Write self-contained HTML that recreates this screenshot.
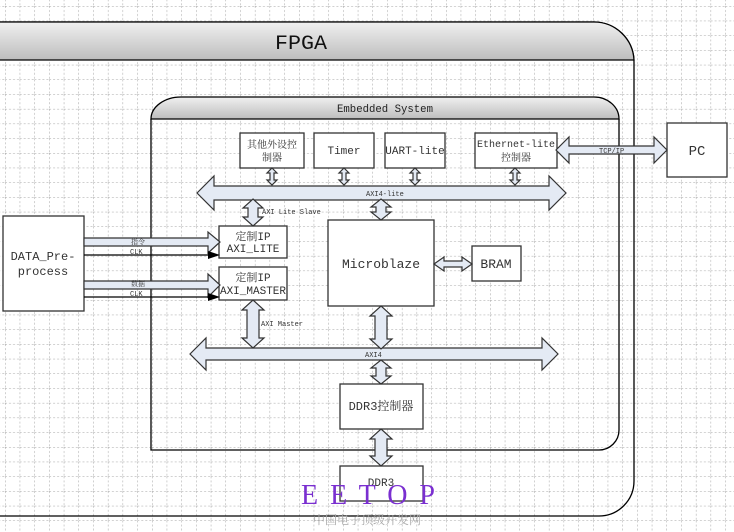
<!DOCTYPE html>
<html><head><meta charset="utf-8"><style>
html,body{margin:0;padding:0;background:#fff;}
svg{display:block;}
text{font-family:"Liberation Mono","Noto Serif CJK SC","Noto Sans CJK SC",monospace;fill:#333;}
</style></head><body>
<svg width="734" height="532" viewBox="0 0 734 532" xmlns="http://www.w3.org/2000/svg">
<defs>
<pattern id="g" x="5" y="6" width="14.7" height="14.7" patternUnits="userSpaceOnUse">
<path d="M0 0H14.7M0 0V14.7" stroke="#a0a0a0" stroke-width="1" stroke-dasharray="2 2" fill="none"/>
</pattern>
<linearGradient id="hg" x1="0" y1="0" x2="0" y2="1">
<stop offset="0" stop-color="#f0f0f0"/><stop offset="1" stop-color="#bdbdbd"/>
</linearGradient>
</defs>
<rect width="734" height="532" fill="#fff"/>
<rect width="734" height="532" fill="url(#g)"/>

<path d="M-5 22 H594 A40 40 0 0 1 634 62 V481 A35 35 0 0 1 599 516 H-5" fill="none" stroke="#000" stroke-width="1.3"/>
<path d="M-5 22 H594 A40 40 0 0 1 634 60 H-5 Z" fill="url(#hg)" stroke="#000" stroke-width="1.3"/>
<text x="301" y="49" font-size="20" text-anchor="middle" style="fill:#111" textLength="52" lengthAdjust="spacingAndGlyphs">FPGA</text>

<path d="M151 119 V450 H599 A20 20 0 0 0 619 430 V119" fill="none" stroke="#000" stroke-width="1.3"/>
<path d="M151 119 A30 22 0 0 1 181 97 H594 A25 22 0 0 1 619 119 Z" fill="url(#hg)" stroke="#000" stroke-width="1.3"/>
<text x="385" y="112" font-size="11" text-anchor="middle" style="fill:#222" textLength="96" lengthAdjust="spacingAndGlyphs">Embedded System</text>

<g fill="#fff" stroke="#333" stroke-width="1.3">
<rect x="240" y="133" width="64" height="35"/>
<rect x="314" y="133" width="60" height="35"/>
<rect x="385" y="133" width="60" height="35"/>
<rect x="475" y="133" width="82" height="35"/>
<rect x="667" y="123" width="60" height="54"/>
<rect x="219" y="226" width="68" height="32"/>
<rect x="219" y="267" width="68" height="33"/>
<rect x="328" y="220" width="106" height="86"/>
<rect x="472" y="246" width="49" height="35"/>
<rect x="3" y="216" width="81" height="95"/>
<rect x="340" y="384" width="83" height="45"/>
<rect x="340" y="466" width="83" height="35"/>
</g>

<g fill="#e4eaf4" stroke="#333" stroke-width="1.2">
<polygon points="197,193 214,176 214,186 549,186 549,176 566,193 549,210 549,200 214,200 214,210"/>
<polygon points="190,354 206,338 206,348 542,348 542,338 558,354 542,370 542,360 206,360 206,370"/>
<polygon points="556,150 569,137 569,146 654,146 654,137 667,150 654,163 654,154 569,154 569,163"/>
<polygon points="434,264 444,257 444,261 462,261 462,257 472,264 462,271 462,267 444,267 444,271"/>
<polygon points="272,168 277,173 274,173 274,180 277,180 272,185 267,180 270,180 270,173 267,173"/>
<polygon points="344,168 349,173 346,173 346,180 349,180 344,185 339,180 342,180 342,173 339,173"/>
<polygon points="415,168 420,173 417,173 417,180 420,180 415,185 410,180 413,180 413,173 410,173"/>
<polygon points="515,168 520,173 517,173 517,180 520,180 515,185 510,180 513,180 513,173 510,173"/>
<polygon points="253,199 263,208 258,208 258,217 263,217 253,226 243,217 248,217 248,208 243,208"/>
<polygon points="381,199 391,207 386,207 386,212 391,212 381,220 371,212 376,212 376,207 371,207"/>
<polygon points="253,300 264,310 259,310 259,338 264,338 253,348 242,338 247,338 247,310 242,310"/>
<polygon points="381,306 392,316 387,316 387,339 392,339 381,349 370,339 375,339 375,316 370,316"/>
<polygon points="381,360 391,368 386,368 386,376 391,376 381,384 371,376 376,376 376,368 371,368"/>
<polygon points="381,429 392,439 387,439 387,456 392,456 381,466 370,456 375,456 375,439 370,439"/>
<polygon points="84,238 208,238 208,232 220,242 208,253 208,246 84,246"/>
<polygon points="84,281 208,281 208,274 220,285 208,297 208,289 84,289"/>
</g>
<g stroke="#000" stroke-width="1.2">
<line x1="84" y1="255" x2="210" y2="255"/>
<line x1="84" y1="297" x2="210" y2="297"/>
</g>
<polygon points="208,251 220,255 208,259" fill="#000"/>
<polygon points="208,293 220,297 208,301" fill="#000"/>

<g font-size="10" text-anchor="middle">
<text x="272" y="148">其他外设控</text><text x="272" y="161">制器</text>
<text x="344" y="154" font-size="11">Timer</text>
<text x="415" y="154" font-size="11">UART-lite</text>
<text x="516" y="147" font-size="10">Ethernet-lite</text><text x="516" y="161">控制器</text>
<text x="697" y="155" font-size="14">PC</text>
<text x="253" y="240" font-size="11">定制IP</text><text x="253" y="252" font-size="11">AXI_LITE</text>
<text x="253" y="281" font-size="11">定制IP</text><text x="253" y="294" font-size="11">AXI_MASTER</text>
<text x="381" y="268" font-size="13">Microblaze</text>
<text x="496" y="268" font-size="13">BRAM</text>
<text x="43" y="260" font-size="12">DATA_Pre-</text><text x="43" y="275" font-size="12">process</text>
<text x="381" y="410" font-size="12">DDR3控制器</text>
<text x="381" y="486" font-size="11">DDR3</text>
</g>
<g font-size="7" style="fill:#444">
<text x="366" y="196">AXI4-lite</text>
<text x="365" y="357">AXI4</text>
<text x="599" y="153">TCP/IP</text>
<text x="262" y="214">AXI Lite Slave</text>
<text x="261" y="326">AXI Master</text>
<text x="131" y="244">指令</text><text x="130" y="254">CLK</text>
<text x="131" y="286">数据</text><text x="130" y="296">CLK</text>
</g>

<text x="368" y="504" font-size="28" text-anchor="middle" style="fill:#7a2fd0;font-family:'Liberation Serif',serif" textLength="134" lengthAdjust="spacing">E E T O P</text>
<text x="367" y="524" font-size="12" text-anchor="middle" style="fill:#aaa">中国电子顶级开发网</text>
</svg>
</body></html>
